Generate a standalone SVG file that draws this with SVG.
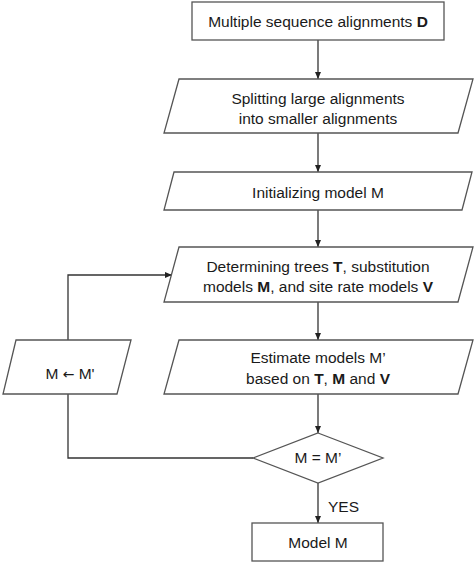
<svg xmlns="http://www.w3.org/2000/svg" width="474" height="564" viewBox="0 0 474 564">
<style>
.box{fill:#fff;stroke:#555;stroke-width:1.3}
.ln{fill:none;stroke:#333;stroke-width:1.3}
text{font-family:"Liberation Sans",Arial,sans-serif;font-size:15.5px;fill:#1a1a1a;text-anchor:middle}
.b{font-weight:bold}
.ar{font-family:"DejaVu Sans",sans-serif;font-size:14px}
</style>
<defs>
<marker id="ah" markerWidth="8" markerHeight="8" refX="7" refY="4" orient="auto" markerUnits="userSpaceOnUse">
<path d="M0,1 L7,4 L0,7 Z" fill="#222"/>
</marker>
</defs>
<rect width="474" height="564" fill="#fff"/>
<g id="connectors">
<line class="ln" x1="318" y1="40" x2="318" y2="79" marker-end="url(#ah)"/>
<line class="ln" x1="318" y1="133" x2="318" y2="172" marker-end="url(#ah)"/>
<line class="ln" x1="318" y1="210" x2="318" y2="247" marker-end="url(#ah)"/>
<line class="ln" x1="318" y1="302" x2="318" y2="340" marker-end="url(#ah)"/>
<line class="ln" x1="318" y1="394" x2="318" y2="433" marker-end="url(#ah)"/>
<line class="ln" x1="318" y1="483" x2="318" y2="523" marker-end="url(#ah)"/>
<polyline class="ln" points="253,458 68,458 68,394"/>
<polyline class="ln" points="68,340 68,275 172,275" marker-end="url(#ah)"/>
<text x="328" y="512" style="text-anchor:start">YES</text>
</g>
<g id="n1">
<rect class="box" x="192" y="2" width="252" height="38"/>
<text x="318" y="27">Multiple sequence alignments <tspan class="b">D</tspan></text>
</g>
<g id="n2">
<polygon class="box" points="179,79 473,79 458,133 164,133"/>
<text x="318" y="104">Splitting large alignments</text>
<text x="318" y="124">into smaller alignments</text>
</g>
<g id="n3">
<polygon class="box" points="174,172 472,172 462,210 164,210"/>
<text x="318" y="198">Initializing model M</text>
</g>
<g id="n4">
<polygon class="box" points="179,247 473,247 458,302 164,302"/>
<text x="318" y="272">Determining trees <tspan class="b">T</tspan>, substitution</text>
<text x="318" y="292">models <tspan class="b">M</tspan>, and site rate models <tspan class="b">V</tspan></text>
</g>
<g id="n5">
<polygon class="box" points="179,340 473,340 458,394 164,394"/>
<text x="318" y="363">Estimate models M’</text>
<text x="318" y="384">based on <tspan class="b">T</tspan>, <tspan class="b">M</tspan> and <tspan class="b">V</tspan></text>
</g>
<g id="n6">
<polygon class="box" points="16,340 131,340 117,394 3,394"/>
<text x="70" y="379">M <tspan class="ar">←</tspan> M'</text>
</g>
<g id="n7">
<polygon class="box" points="318,433 383,458 318,483 253,458"/>
<text x="318" y="463">M = M’</text>
</g>
<g id="n8">
<rect class="box" x="252" y="523" width="131" height="38"/>
<text x="318" y="548">Model M</text>
</g>
</svg>
